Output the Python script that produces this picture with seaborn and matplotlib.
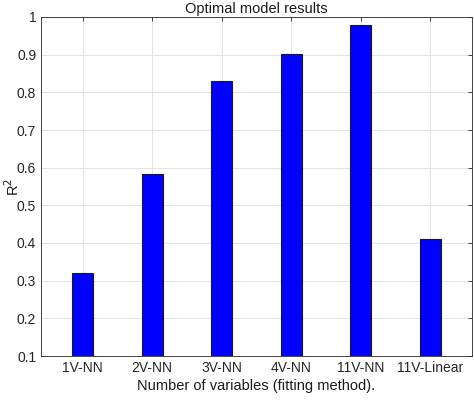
import matplotlib
matplotlib.use("Agg")
import matplotlib.pyplot as plt
import seaborn as sns
import pandas as pd

categories = ["1V-NN", "2V-NN", "3V-NN", "4V-NN", "11V-NN", "11V-Linear"]
r2_values = [0.321, 0.584, 0.830, 0.901, 0.978, 0.410]
yticks = [0.1, 0.2, 0.3, 0.4, 0.5, 0.6, 0.7, 0.8, 0.9, 1.0]
ytick_labels = ["0.1", "0.2", "0.3", "0.4", "0.5", "0.6", "0.7", "0.8", "0.9", "1"]

sns.set_style("white")
plt.rcParams['font.family'] = ['Liberation Sans', 'DejaVu Sans']

df = pd.DataFrame({"method": categories, "r2": r2_values})

fig = plt.figure(figsize=(4.74, 4.0), dpi=100)
ax = fig.add_axes([0.0865, 0.11, 0.909, 0.8475])

sns.barplot(data=df, x="method", y="r2", order=categories, color="#0000FF",
            saturation=1, width=0.3, edgecolor="#1a1a1a", linewidth=0.8, ax=ax, zorder=3)

ax.set_xlim(-0.6, 5.6)
ax.set_ylim(0.1, 1.0)
ax.set_yticks(yticks)
ax.set_yticklabels(ytick_labels)
ax.grid(True, color="#e3e3e3", linewidth=0.7, zorder=0)
ax.set_axisbelow(True)
for s in ax.spines.values():
    s.set_color("#262626")
    s.set_linewidth(0.6)
    s.set_visible(True)
ax.tick_params(direction="in", length=3, width=0.6, colors="#262626",
               labelsize=10, top=True, right=True, labelcolor="#262626")
ax.set_title("Optimal model results", fontsize=10.5, color="#1a1a1a", pad=3)
ax.set_xlabel("Number of variables (fitting method).", fontsize=10.5, color="#1a1a1a", labelpad=3)
ax.set_ylabel("R$^2$", fontsize=10.5, color="#1a1a1a")
ax.yaxis.set_label_coords(-0.045, 0.5)

fig.savefig("out.png", dpi=100)
